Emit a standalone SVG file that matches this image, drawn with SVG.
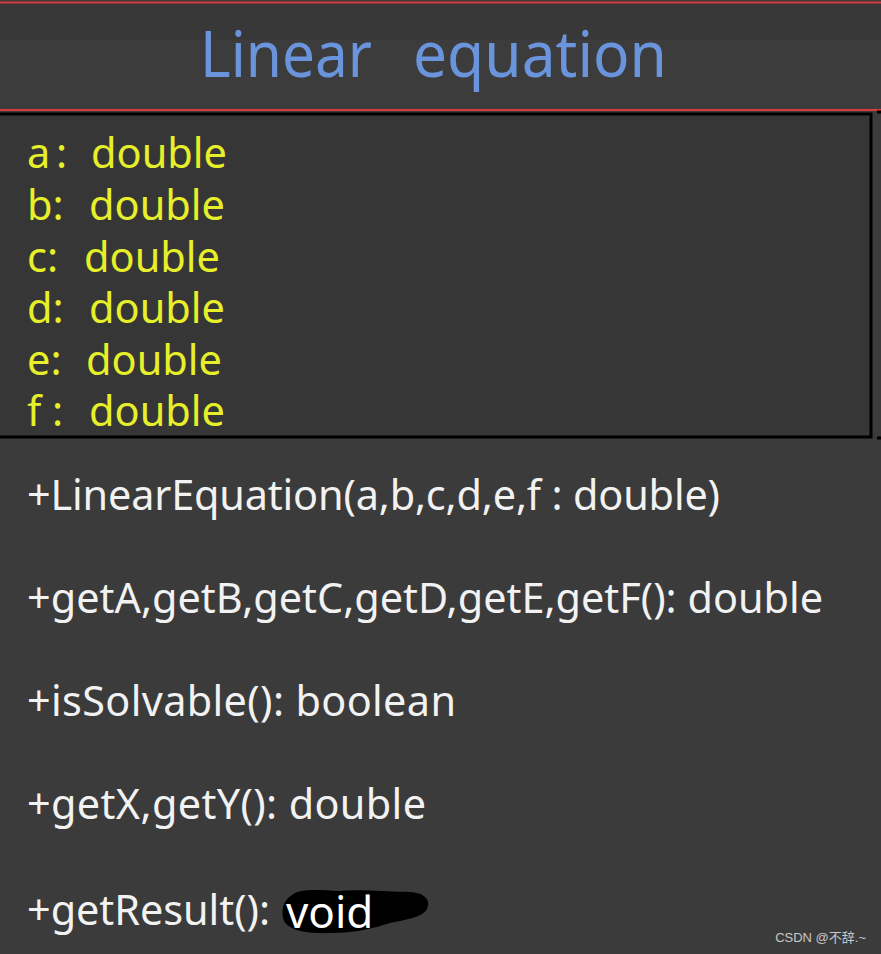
<svg xmlns="http://www.w3.org/2000/svg" width="881" height="954" viewBox="0 0 881 954">
<style>
.attr{font-family:"Noto Sans","Open Sans",sans-serif;font-size:41.5px;fill:#e6ef2a}
.meth{font-family:"Noto Sans","Open Sans",sans-serif;font-size:41.4px;fill:#f2f2f2}
.title{font-family:"Noto Sans","Open Sans",sans-serif;font-size:63px;fill:#6a95dd}
</style>
<rect x="0" y="0" width="881" height="954" fill="#3b3b3b"/>
<g id="title">
<rect x="0" y="2" width="881" height="108" fill="#3c3c3c"/>
<rect x="0" y="2" width="881" height="38" fill="#383838"/>
<line x1="0" y1="2.5" x2="881" y2="2.5" stroke="#d63a3a" stroke-width="2"/>
<line x1="0" y1="110" x2="881" y2="110" stroke="#d63a3a" stroke-width="2"/>
<text class="title" x="200" y="77" textLength="172" lengthAdjust="spacingAndGlyphs">Linear</text>
<text class="title" x="413" y="77" textLength="254" lengthAdjust="spacingAndGlyphs">equation</text>
</g>
<g id="attributes">
<rect x="-2" y="114" width="873" height="323" fill="#363636" stroke="#000" stroke-width="3"/>
<line x1="877" y1="112" x2="881" y2="112" stroke="#000" stroke-width="3"/>
<line x1="877" y1="438" x2="881" y2="438" stroke="#000" stroke-width="3"/>
<text class="attr" x="27" y="168">a</text><text class="attr" x="56" y="168">:</text><text class="attr" x="91" y="168">double</text>
<text class="attr" x="27" y="220">b:</text><text class="attr" x="89" y="220">double</text>
<text class="attr" x="27" y="272">c:</text><text class="attr" x="84" y="272">double</text>
<text class="attr" x="27" y="323">d:</text><text class="attr" x="89" y="323">double</text>
<text class="attr" x="27" y="375">e:</text><text class="attr" x="86" y="375">double</text>
<text class="attr" x="27" y="426">f</text><text class="attr" x="52" y="426">:</text><text class="attr" x="89" y="426">double</text>
</g>
<g id="methods">
<text class="meth" x="27" y="510" textLength="693">+LinearEquation(a,b,c,d,e,f : double)</text>
<text class="meth" x="27" y="613" textLength="796">+getA,getB,getC,getD,getE,getF(): double</text>
<text class="meth" x="27" y="716" textLength="429">+isSolvable(): boolean</text>
<text class="meth" x="27" y="819" textLength="399">+getX,getY(): double</text>
<text class="meth" x="27" y="925" textLength="243">+getResult():</text>
<path d="M292 895 C300 888 320 890 340 891 C360 889 390 892 410 892 C425 893 431 900 427 909 C423 917 405 920 390 923 C375 928 355 933 330 933 C305 934 286 930 283 918 C281 907 285 899 292 895 Z" fill="#000"/>
<text x="286" y="928" fill="#fff" font-family="Noto Sans, Open Sans, sans-serif" font-size="44">void</text>
</g>
<text x="866" y="942" text-anchor="end" font-family="Liberation Sans, Noto Sans CJK SC, sans-serif" font-size="13" fill="#c8c8c8">CSDN @不辞.~</text>
</svg>
